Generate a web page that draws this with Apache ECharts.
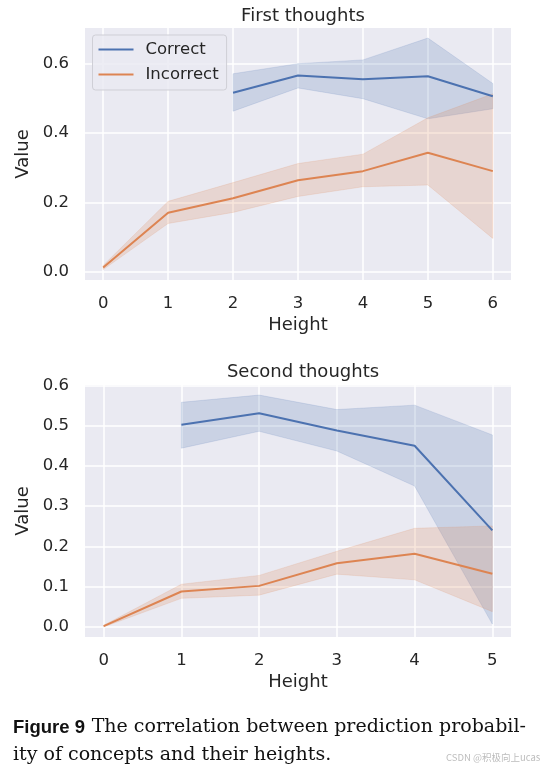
<!DOCTYPE html>
<html>
<head>
<meta charset="utf-8">
<script src="https://cdn.jsdelivr.net/npm/echarts@6/dist/echarts.min.js"></script>
<style>
html,body{margin:0;padding:0;background:#fff;}
#c{width:546px;height:771px;}
</style>
</head>
<body>
<div id="c"></div>
<script>
// ---- Data ----
const heights1 = [0, 1, 2, 3, 4, 5, 6];
const correct1   = [null, null, 0.516, 0.566, 0.555, 0.564, 0.506];
const correct1Lo = [null, null, 0.463, 0.530, 0.499, 0.441, 0.470];
const correct1Hi = [null, null, 0.571, 0.600, 0.611, 0.674, 0.543];
const incorrect1   = [0.012, 0.170, 0.212, 0.264, 0.290, 0.343, 0.290];
const incorrect1Lo = [0.006, 0.139, 0.171, 0.217, 0.245, 0.250, 0.096];
const incorrect1Hi = [0.018, 0.203, 0.257, 0.312, 0.339, 0.444, 0.513];

const heights2 = [0, 1, 2, 3, 4, 5];
const correct2   = [null, 0.502, 0.531, 0.488, 0.450, 0.240];
const correct2Lo = [null, 0.444, 0.486, 0.437, 0.350, 0.007];
const correct2Hi = [null, 0.558, 0.576, 0.540, 0.551, 0.477];
const incorrect2   = [0.002, 0.088, 0.102, 0.158, 0.182, 0.132];
const incorrect2Lo = [0.000, 0.071, 0.079, 0.131, 0.117, 0.038];
const incorrect2Hi = [0.004, 0.106, 0.128, 0.188, 0.245, 0.251];

const xTicks1 = [0, 1, 2, 3, 4, 5, 6];
const yTicks1 = [0.0, 0.2, 0.4, 0.6];
const xTicks2 = [0, 1, 2, 3, 4, 5];
const yTicks2 = [0.0, 0.1, 0.2, 0.3, 0.4, 0.5, 0.6];

const seriesNames = ['Correct', 'Incorrect'];
const titles = ['First thoughts', 'Second thoughts'];

// ---- Style ----
const BLUE = '#4c72b0', ORANGE = '#dd8452';
const TXT = '#262626', BG = '#eaeaf2';
const FONT = 'DejaVu Sans';

function pairs(xs, ys) {
  const out = [];
  xs.forEach((x, i) => { if (ys[i] != null) out.push([x, ys[i]]); });
  return out;
}
function bandData(xs, lo, hi) {
  const out = [];
  xs.forEach((x, i) => { if (lo[i] != null) out.push([x, lo[i], hi[i]]); });
  return out;
}
function bandSeries(gi, xs, lo, hi, color) {
  const d = bandData(xs, lo, hi);
  return {
    type: 'custom', xAxisIndex: gi, yAxisIndex: gi, silent: true, z: 1,
    encode: { x: 0, y: [1, 2] },
    data: d,
    renderItem: function (params, api) {
      if (params.dataIndex !== 0) return null;
      const pts = [];
      for (let i = 0; i < d.length; i++) pts.push(api.coord([d[i][0], d[i][2]]));
      for (let i = d.length - 1; i >= 0; i--) pts.push(api.coord([d[i][0], d[i][1]]));
      return {
        type: 'polygon', shape: { points: pts },
        style: { fill: color, stroke: color, lineWidth: 0.8, opacity: 0.2 }
      };
    }
  };
}
function lineSeries(gi, name, xs, ys, color) {
  return {
    type: 'line', name: name, xAxisIndex: gi, yAxisIndex: gi, z: 3,
    data: pairs(xs, ys), showSymbol: false, symbol: 'none',
    lineStyle: { color: color, width: 2 }, itemStyle: { color: color },
    animation: false
  };
}
function xAxis(gi, min, max, ticks) {
  return {
    type: 'value', gridIndex: gi, min: min, max: max,
    name: 'Height', nameLocation: 'middle', nameGap: 36,
    nameTextStyle: { color: TXT, fontSize: 18, fontFamily: FONT },
    axisLine: { show: false },
    axisTick: { show: false, customValues: ticks },
    axisLabel: { customValues: ticks, color: TXT, fontSize: 16.5, fontFamily: FONT, margin: 15,
                 formatter: v => String(v) },
    splitLine: { show: true, lineStyle: { color: '#ffffff', width: 1.5 } }
  };
}
function yAxis(gi, min, max, ticks) {
  return {
    type: 'value', gridIndex: gi, min: min, max: max,
    name: 'Value', nameLocation: 'middle', nameGap: 47,
    nameTextStyle: { color: TXT, fontSize: 18, fontFamily: FONT },
    axisLine: { show: false },
    axisTick: { show: false, customValues: ticks },
    axisLabel: { customValues: ticks, color: TXT, fontSize: 16.5, fontFamily: FONT, margin: 16,
                 formatter: v => Number(v).toFixed(1) },
    splitLine: { show: true, lineStyle: { color: '#ffffff', width: 1.5 } }
  };
}

const chart = echarts.init(document.getElementById('c'), null, { renderer: 'canvas' });
chart.setOption({
  animation: false,
  backgroundColor: '#ffffff',
  title: [
    { text: titles[0], left: 298, top: 2, textAlign: 'center',
      textStyle: { color: TXT, fontSize: 18, fontWeight: 'normal', fontFamily: FONT } },
    { text: titles[1], left: 298, top: 358, textAlign: 'center',
      textStyle: { color: TXT, fontSize: 18, fontWeight: 'normal', fontFamily: FONT } }
  ],
  grid: [
    { left: 85, top: 28, width: 426, height: 252, show: true, backgroundColor: BG, borderWidth: 0 },
    { left: 85, top: 385, width: 426, height: 252, show: true, backgroundColor: BG, borderWidth: 0 }
  ],
  xAxis: [xAxis(0, -0.28, 6.28, xTicks1), xAxis(1, -0.24, 5.24, xTicks2)],
  yAxis: [yAxis(0, -0.024, 0.703, yTicks1), yAxis(1, -0.025, 0.601, yTicks2)],
  legend: {
    data: seriesNames, orient: 'vertical', left: 92.5, top: 35,
    padding: [6, 8, 7, 6], itemGap: 8,
    backgroundColor: 'rgba(234,234,242,0.85)', borderColor: '#cfcfd6', borderWidth: 1, borderRadius: 3,
    icon: 'rect', itemWidth: 35, itemHeight: 2.2,
    textStyle: { color: TXT, fontSize: 16.5, fontFamily: FONT, padding: [0, 0, 0, 7] }
  },
  series: [
    bandSeries(0, heights1, correct1Lo, correct1Hi, BLUE),
    bandSeries(0, heights1, incorrect1Lo, incorrect1Hi, ORANGE),
    lineSeries(0, seriesNames[0], heights1, correct1, BLUE),
    lineSeries(0, seriesNames[1], heights1, incorrect1, ORANGE),
    bandSeries(1, heights2, correct2Lo, correct2Hi, BLUE),
    bandSeries(1, heights2, incorrect2Lo, incorrect2Hi, ORANGE),
    lineSeries(1, seriesNames[0], heights2, correct2, BLUE),
    lineSeries(1, seriesNames[1], heights2, incorrect2, ORANGE)
  ],
  graphic: [
    { type: 'text', left: 13, top: 718,
      style: { text: '{b|Figure 9}  {s|The correlation between prediction probabil-}',
               rich: {
                 b: { fontFamily: 'Liberation Sans', fontWeight: 'bold', fontSize: 18.5, fill: '#111' },
                 s: { fontFamily: 'DejaVu Serif', fontSize: 19, fill: '#111' }
               } } },
    { type: 'text', left: 13, top: 746,
      style: { text: 'ity of concepts and their heights.', fontFamily: 'DejaVu Serif', fontSize: 19, fill: '#111' } },
    { type: 'text', left: 446, top: 753,
      style: { text: 'CSDN @积极向上ucas', fontFamily: 'Noto Sans CJK SC', fontSize: 9.5, fill: '#bdbdbd' } }
  ]
});
</script>
</body>
</html>
